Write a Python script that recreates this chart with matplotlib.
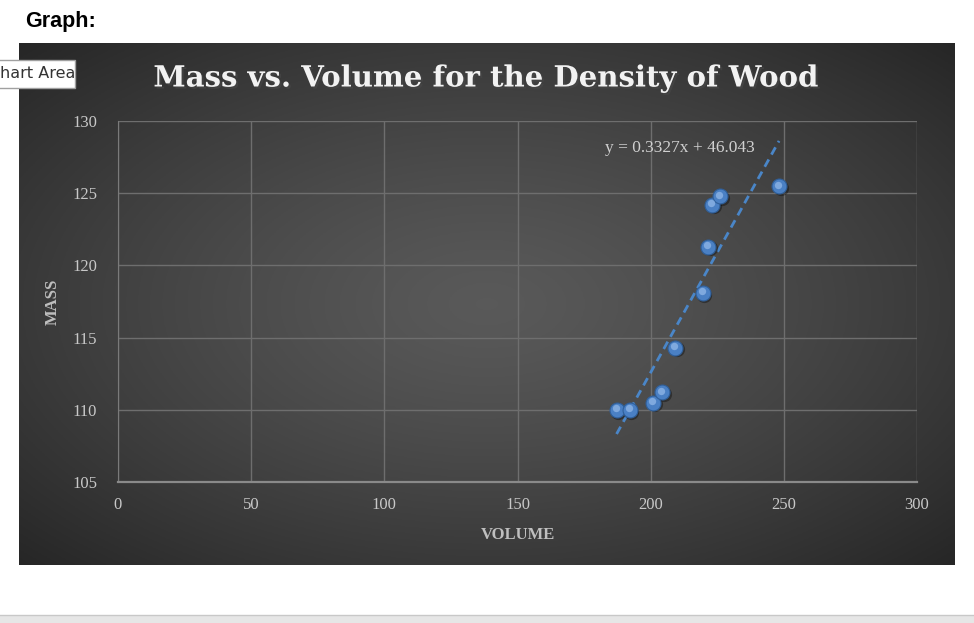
import numpy as np
import matplotlib
matplotlib.use("Agg")
from matplotlib import pyplot as plt
from matplotlib.patches import Rectangle
import matplotlib.patheffects as pe

# data
volume = [187.2, 192.2, 200.9, 204.4, 209.3, 219.5, 221.7, 223.2, 226.0, 248.2]
mass = [110.0, 110.0, 110.5, 111.2, 114.3, 118.1, 121.3, 124.2, 124.8, 125.5]
slope, intercept = 0.3327, 46.043
x_ticks = [0, 50, 100, 150, 200, 250, 300]
y_ticks = [105, 110, 115, 120, 125, 130]

W, H = 974, 623
fig = plt.figure(figsize=(W / 100, H / 100), dpi=100)
fig.patch.set_facecolor("white")

def fx(px):
    return px / W

def fy(py):
    return 1 - py / H

# chart area with dark radial gradient
bg = fig.add_axes([fx(19), fy(565), fx(955 - 19), (565 - 43) / H])
bg.set_axis_off()
gx, gy = np.meshgrid(np.linspace(-1, 1, 400), np.linspace(-1, 1, 220))
r = np.clip(np.sqrt(gx ** 2 + gy ** 2) / np.sqrt(2), 0, 1)
shade = 0.35 - 0.2 * r ** 1.3
bg.imshow(np.dstack([shade] * 3), aspect="auto", extent=[0, 1, 0, 1])
bg.set_xlim(0, 1)
bg.set_ylim(0, 1)

# bottom gray strip of the page
fig.patches.append(Rectangle((0, 0), 1, 8.5 / H, transform=fig.transFigure,
                             facecolor="#e6e6e6", edgecolor="none"))
fig.lines.append(plt.Line2D([0, 1], [8.5 / H, 8.5 / H], transform=fig.transFigure,
                            color="#c8c8c8", lw=1))

ax = fig.add_axes([fx(118), fy(482), (917 - 118) / W, (482 - 121) / H])
ax.patch.set_alpha(0)
ax.set_xlim(0, 300)
ax.set_ylim(105, 130)
ax.set_xticks(x_ticks)
ax.set_yticks(y_ticks)
ax.grid(True, color="#6e6e6e", lw=1)
ax.set_axisbelow(True)
for s in ["top", "right"]:
    ax.spines[s].set_visible(False)
ax.spines["left"].set_color("#7a7a7a")
ax.spines["bottom"].set_color("#8a8a8a")
ax.spines["bottom"].set_linewidth(1.6)
ax.tick_params(length=0, colors="#c8c8c8", labelsize=12, pad=11)
ax.tick_params(axis="y", pad=15)
for lab in ax.get_xticklabels() + ax.get_yticklabels():
    lab.set_family("Liberation Serif")

# trendline
tx = np.array([min(volume), max(volume)])
ax.plot(tx, slope * tx + intercept, ls=(0, (3, 2)), color="#4a86c8", lw=2, zorder=3)

# sphere-like markers: shadow, body, highlight
ax.scatter(np.array(volume) + 0.6, np.array(mass) - 0.12, s=120, color="black",
           alpha=0.35, zorder=4, lw=0)
ax.scatter(volume, mass, s=115, color="#4a80c4", edgecolors="#2f5f9a", lw=0.8, zorder=5)
ax.scatter(np.array(volume) - 0.4, np.array(mass) + 0.1, s=28, color="#7fa9de",
           lw=0, zorder=6)

ax.text(0.703, 0.926, "y = 0.3327x + 46.043", transform=ax.transAxes, ha="center",
        va="center", color="#d0d0d0", fontsize=12.5, family="Liberation Serif")

ax.set_xlabel("VOLUME", color="#bfbfbf", fontsize=12, fontweight="bold",
              family="Liberation Serif", labelpad=10)
ax.set_ylabel("MASS", color="#bfbfbf", fontsize=12, fontweight="bold",
              family="Liberation Serif", labelpad=8)

fig.text(fx(486), fy(78), "Mass vs. Volume for the Density of Wood", ha="center",
         va="center", color="#f2f2f2", fontsize=21, fontweight="bold",
         family="DejaVu Serif",
         path_effects=[pe.withSimplePatchShadow(offset=(1.5, -1.5), alpha=0.6)])

fig.text(fx(25), fy(21), "Graph:", ha="left", va="center", fontsize=15.5,
         fontweight="bold", family="Liberation Sans", color="black")

# tooltip partly off the left edge
fig.patches.append(Rectangle((fx(-10), fy(88)), fx(85), 28 / H, transform=fig.transFigure,
                             facecolor="white", edgecolor="#a0a0a0", lw=1, zorder=10))
fig.text(fx(0), fy(74), "hart Area", ha="left", va="center", fontsize=11.5,
         family="DejaVu Sans", color="#333333", zorder=11)

fig.savefig("out.png", dpi=100)
